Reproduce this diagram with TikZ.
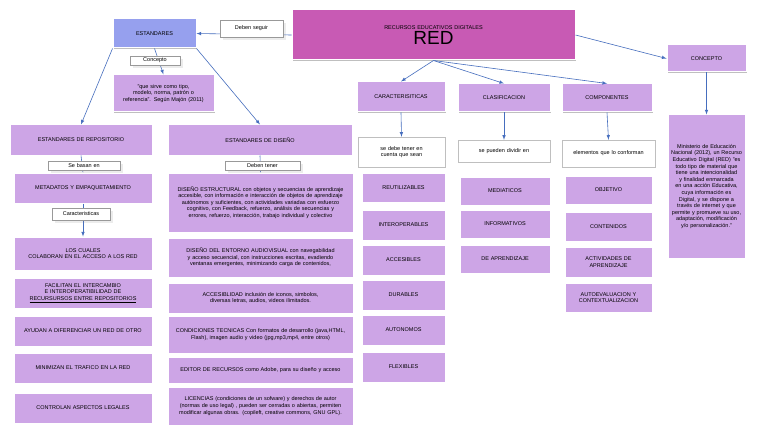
\documentclass[tikz,border=0pt]{standalone}
\usepackage{fontspec}
\setmainfont{Liberation Sans}
\usetikzlibrary{shadows}
\definecolor{pur}{RGB}{205,165,230}
\definecolor{blu}{RGB}{150,160,238}
\definecolor{mag}{RGB}{200,90,180}
\definecolor{arr}{RGB}{70,110,190}
\newcommand{\bx}[7]{\node[#6,minimum width={(#4-#2)*1pt},minimum height={(#5-#3)*1pt},text width={(#4-#2-6)*1pt}] (#1) at ({(#2+#4)/2},{-(#3+#5)/2}) {#7};}
\newcommand{\boxfont}{\fontsize{5.5}{6.6}\selectfont\hyphenpenalty=10000\exhyphenpenalty=10000\relax}
\begin{document}
\begin{tikzpicture}[x=1pt,y=1pt,
  base/.style={align=center,inner sep=1pt,font=\boxfont,draw=white,line width=1pt,drop shadow={shadow xshift=0.8pt,shadow yshift=-1.2pt,opacity=0.5}},
  pbox/.style={base,fill=pur},
  wbox/.style={base,fill=white,draw=black!25,line width=0.4pt},
  lbl/.style={base,fill=white,draw=black!40,line width=0.4pt,drop shadow={opacity=0.15}},
  ar/.style={draw=arr,line width=0.6pt,-latex}]
\useasboundingbox (0,0) rectangle (768,-433);
\fill[white] (0,0) rectangle (768,-433);
\bx{est}{113}{19}{196}{48}{base,fill=blu}{ESTANDARES}
\bx{red}{292}{10}{575}{60}{base,fill=mag}{RECURSOS EDUCATIVOS DIGITALES\\[1pt]{\fontsize{19}{20}\selectfont RED}}
\bx{quote}{113}{75}{214}{112}{pbox}{"que sirve como tipo, modelo, norma, patrón o referencia". Según Majón (2011)}
\bx{rep}{10}{125}{152}{155}{pbox}{ESTANDARES DE REPOSITORIO}
\bx{dis}{168}{125}{352}{155}{pbox}{ESTANDARES DE DISEÑO}
\bx{meta}{14}{173}{152}{203}{pbox}{METADATOS Y EMPAQUETAMIENTO}
\bx{r1}{14}{237}{152}{270}{pbox}{LOS CUALES\\COLABORAN EN  EL ACCESO A LOS RED}
\bx{r2}{14}{278}{152}{308}{pbox}{FACILITAN EL INTERCAMBIO E INTEROPERATIBILIDAD DE \underline{RECURSURSOS ENTRE REPOSITORIOS}}
\bx{r3}{14}{316}{152}{346}{pbox}{AYUDAN A DIFERENCIAR UN RED DE OTRO}
\bx{r4}{14}{353}{152}{383}{pbox}{MINIMIZAN EL TRAFICO EN LA RED}
\bx{r5}{14}{393}{152}{423}{pbox}{CONTROLAN ASPECTOS LEGALES}
\bx{d1}{168}{173}{353}{232}{pbox}{DISEÑO ESTRUCTURAL con objetos y secuencias de aprendizaje accesible, con información e interacción de objetos de aprendizaje autónomos y suficientes, con actividades variadas con esfuerzo cognitivo, con Feedback, refuerzo, análisis de secuencias y errores, refuerzo, interacción, trabajo individual y colectivo}
\bx{d2}{168}{238}{353}{277}{pbox}{DISEÑO DEL ENTORNO AUDIOVISUAL con navegabilidad y acceso secuencial, con instrucciones escritas, evadiendo ventanas emergentes, minimizando carga de contenidos,}
\bx{d3}{168}{283}{353}{313}{pbox}{ACCESIBLIDAD inclusión de iconos, simbolos, diversas letras, audios, videos ilimitados.}
\bx{d4}{168}{316}{353}{353}{pbox}{CONDICIONES TECNICAS Con formatos de desarrollo (java,HTML, Flash), imagen audio y video (jpg,mp3,mp4, entre otros)}
\bx{d5}{168}{357}{353}{383}{pbox}{EDITOR DE RECURSOS como Adobe, para su diseño y acceso}
\bx{d6}{168}{387}{353}{425}{pbox}{LICENCIAS (condiciones de un sofware) y derechos de autor (normas de uso legal) , pueden ser  cerradas o abiertas, permiten modificar algunas obras. (copileft, creative commons, GNU GPL).}
\bx{car}{357}{82}{445}{112}{pbox}{CARACTERISITICAS}
\bx{sdt}{358}{137}{445}{167}{wbox}{se debe tener en cuenta que sean}
\bx{c1}{362}{173}{445}{202}{pbox}{REUTILIZABLES}
\bx{c2}{362}{210}{445}{240}{pbox}{INTEROPERABLES}
\bx{c3}{362}{245}{445}{275}{pbox}{ACCESIBLES}
\bx{c4}{362}{280}{445}{310}{pbox}{DURABLES}
\bx{c5}{362}{315}{445}{345}{pbox}{AUTONOMOS}
\bx{c6}{362}{352}{445}{382}{pbox}{FLEXIBLES}
\bx{cla}{458}{84}{550}{112}{pbox}{CLASIFICACION}
\bx{spd}{458}{140}{550}{162}{wbox}{se pueden dividir en}
\bx{k1}{460}{177}{550}{205}{pbox}{MEDIATICOS}
\bx{k2}{460}{210}{550}{238}{pbox}{INFORMATIVOS}
\bx{k3}{460}{245}{550}{273}{pbox}{DE APRENDIZAJE}
\bx{com}{562}{84}{652}{112}{pbox}{COMPONENTES}
\bx{ele}{562}{140}{655}{167}{wbox}{elementos que lo conforman}
\bx{m1}{565}{176}{652}{204}{pbox}{OBJETIVO}
\bx{m2}{565}{212}{652}{241}{pbox}{CONTENIDOS}
\bx{m3}{565}{247}{652}{277}{pbox}{ACTIVIDADES DE APRENDIZAJE}
\bx{m4}{565}{283}{652}{312}{pbox}{AUTOEVALUACION Y CONTEXTUALIZACION}
\bx{cpt}{667}{45}{746}{72}{pbox}{CONCEPTO}
\bx{ctx}{668}{115}{745}{258}{pbox}{Ministerio de Educación Nacional (2012), un Recurso Educativo Digital (RED) "es todo tipo de material que tiene una intencionalidad y finalidad enmarcada en una acción Educativa, cuya información es Digital, y se dispone a través de internet y que permite y promueve su uso, adaptación, modificación y/o personalización."}
% connectors
\draw[ar] (red.west) -- (est.east);
\draw[ar] (est.south) -- (quote.north);
\draw[ar] (est.south west) -- (rep.north);
\draw[ar] (est.south east) -- (dis.north);
\draw[ar] (red.south) -- (car.north);
\draw[ar] (red.south) -- (cla.north);
\draw[ar] (red.south) -- (com.north);
\draw[ar] (red.east) -- (cpt.west);
\draw[ar] (cpt.south) -- (ctx.north);
\draw[ar] (car.south) -- (sdt.north);
\draw[ar] (cla.south) -- (spd.north);
\draw[ar] (com.south) -- (ele.north);
\draw[ar] (rep.south) -- (meta.north);
\draw[ar] (meta.south) -- (r1.north);
\draw[ar] (dis.south) -- (d1.north);
% labels
\bx{l1}{220}{20}{283}{37}{lbl}{Deben seguir}
\bx{l2}{130}{56}{180}{65}{lbl}{Concepto}
\bx{l3}{48}{161}{120}{170}{lbl}{Se basan en}
\bx{l4}{52}{208}{110}{220}{lbl}{Caracteristicas}
\bx{l5}{225}{161}{300}{170}{lbl}{Deben tener}
\end{tikzpicture}
\end{document}
